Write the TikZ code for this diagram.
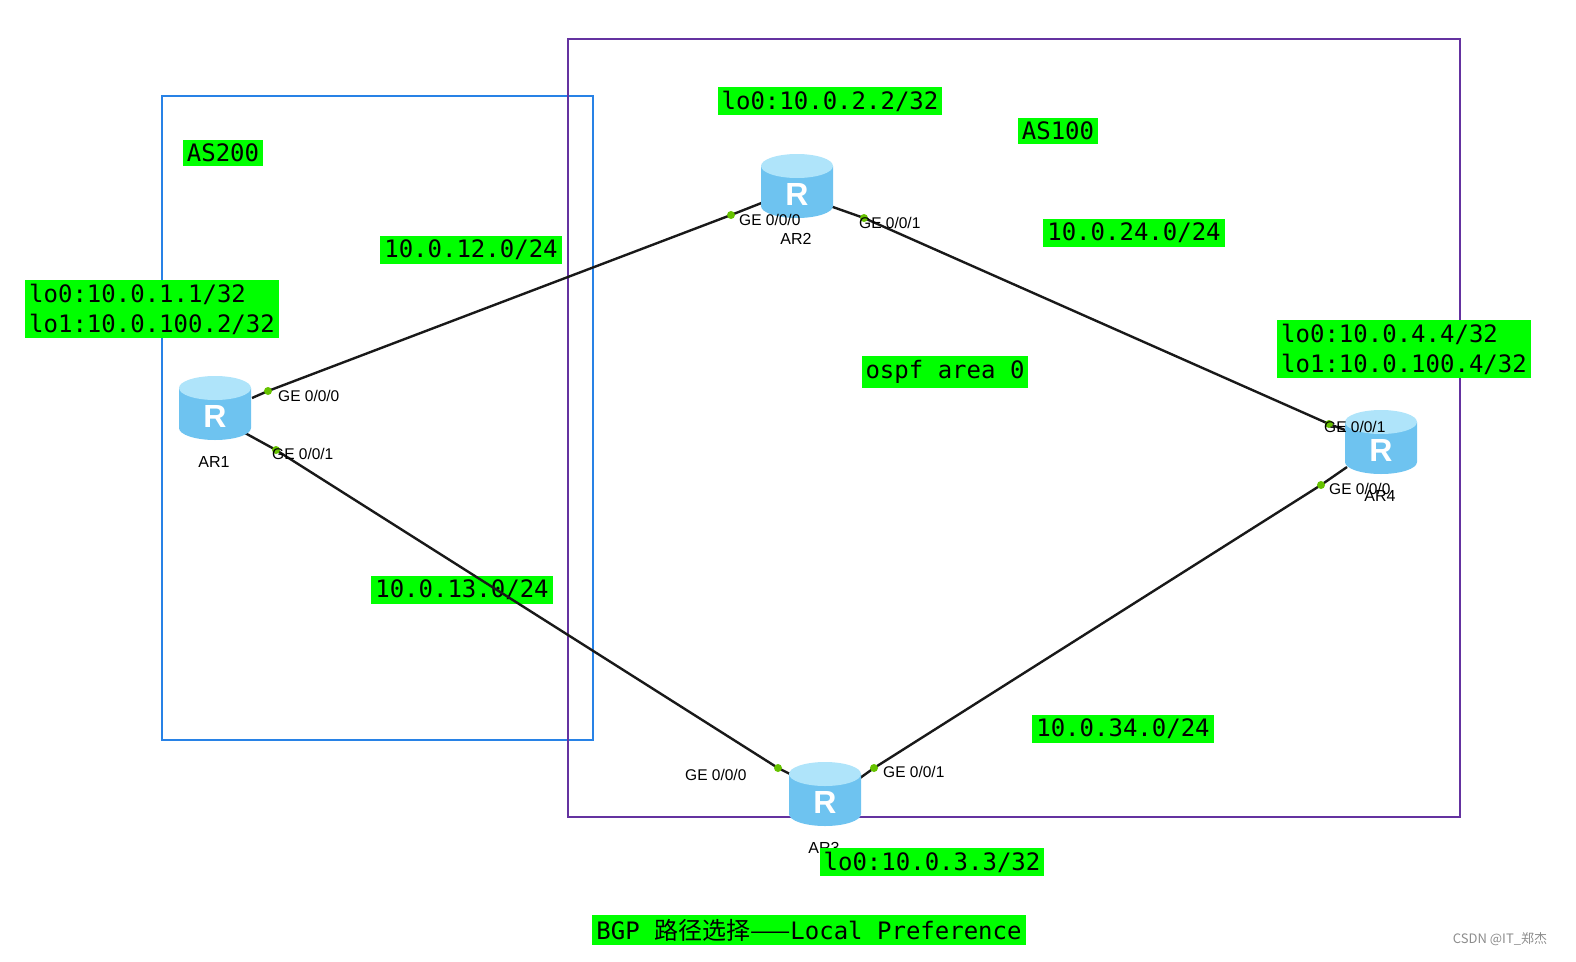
\documentclass[tikz,border=0pt]{standalone}
\usepackage{fontspec}
\setmainfont{Liberation Sans}
\newfontfamily\monofont{DejaVu Sans Mono}
\newfontfamily\cjk{Noto Sans CJK SC}
\usetikzlibrary{positioning}
\definecolor{labelgreen}{RGB}{0,255,0}
\definecolor{asblue}{RGB}{40,130,230}
\definecolor{aspurple}{RGB}{100,50,160}
\definecolor{routerblue}{RGB}{110,195,240}
\definecolor{routertop}{RGB}{175,228,250}
\tikzset{
  tag/.style={fill=labelgreen, inner sep=4pt, font=\monofont\fontsize{24}{30}\selectfont, align=left},
  port/.style={font=\fontsize{15.5}{17}\selectfont, inner sep=1pt},
  rname/.style={font=\fontsize{16}{18}\selectfont, inner sep=1pt},
  link/.style={line width=2.4pt, black!90},
  dot/.style={circle, fill=green!60!black!60!yellow, inner sep=0pt, minimum size=8pt},
  router/.pic={
    \fill[routerblue] (-36,0) -- (-36,40) arc[start angle=180, end angle=0, x radius=36, y radius=12] -- (36,0) -- cycle;
    \fill[routertop] (0,0) ellipse[x radius=36, y radius=12];
    \node[text=white, font=\bfseries\fontsize{32}{32}\selectfont] at (0,28) {R};
  }
}
\begin{document}
\begin{tikzpicture}[x=1pt, y=-1pt]
\useasboundingbox (0,0) rectangle (1576,961);
% AS boxes
\draw[asblue, line width=1.2pt] (162,96) rectangle (593,740);
\draw[aspurple, line width=1.2pt] (568,39) rectangle (1460,817);
% labels
\node[tag] (lo2) at (830,101) {lo0:10.0.2.2/32};
\node[tag] (as100) at (1058,131) {AS100};
\node[tag] (as200) at (223,153) {AS200};
\node[tag] (net12) at (471,250) {10.0.12.0/24};
\node[tag] (lo1) at (152,309) {lo0:10.0.1.1/32\\lo1:10.0.100.2/32};
\node[tag] (net24) at (1134,233) {10.0.24.0/24};
\node[tag] (lo4) at (1404,349) {lo0:10.0.4.4/32\\lo1:10.0.100.4/32};
\node[tag] (ospf) at (945,372) {ospf area 0};
\node[tag] (net13) at (462,590) {10.0.13.0/24};
\node[tag] (net34) at (1123,729) {10.0.34.0/24};
\node[tag] (title) at (809,930) {BGP {\cjk 路径选择}{\cjk ——}Local Preference};
% ports
\coordinate (p1a) at (268,391);
\coordinate (p1b) at (276,450);
\coordinate (p2a) at (731,215);
\coordinate (p2b) at (864,218);
\coordinate (p3a) at (778,768);
\coordinate (p3b) at (874,768);
\coordinate (p4a) at (1321,485);
\coordinate (p4b) at (1329,424);
% links
\draw[link] (252,398) -- (p1a) -- (p2a) -- (764,202);
\draw[link] (830,206) -- (p2b) -- (p4b) -- (1345,430);
\draw[link] (245,433) -- (p1b) -- (p3a) -- (792,775);
\draw[link] (860,778) -- (p3b) -- (p4a) -- (1347,467);
% routers
\pic at (215,388) {router};
\pic at (797,166) {router};
\pic at (825,774) {router};
\pic at (1381,422) {router};
\foreach \p in {p1a,p1b,p2a,p2b,p3a,p3b,p4a,p4b} \node[dot] at (\p) {};
% router names
\node[rname] (ar1) at (214,462) {AR1};
\node[rname] (ar2) at (796,239) {AR2};
\node[rname] (ar3) at (824,848) {AR3};
\node[rname] (ar4) at (1380,496) {AR4};
\node[tag] (lo3) at (932,862) {lo0:10.0.3.3/32};
% port names
\node[port, anchor=west] at (277,396) {GE 0/0/0};
\node[port, anchor=west] at (271,454) {GE 0/0/1};
\node[port, anchor=west] at (738,220) {GE 0/0/0};
\node[port, anchor=west] at (858,223) {GE 0/0/1};
\node[port, anchor=west] at (684,775) {GE 0/0/0};
\node[port, anchor=west] at (882,772) {GE 0/0/1};
\node[port, anchor=west] at (1328,489) {GE 0/0/0};
\node[port, anchor=west] at (1323,427) {GE 0/0/1};
\node[font=\cjk\fontsize{13}{15}\selectfont, text=black!45] (mark) at (1500,939) {CSDN @IT\_郑杰};
\end{tikzpicture}
\end{document}
